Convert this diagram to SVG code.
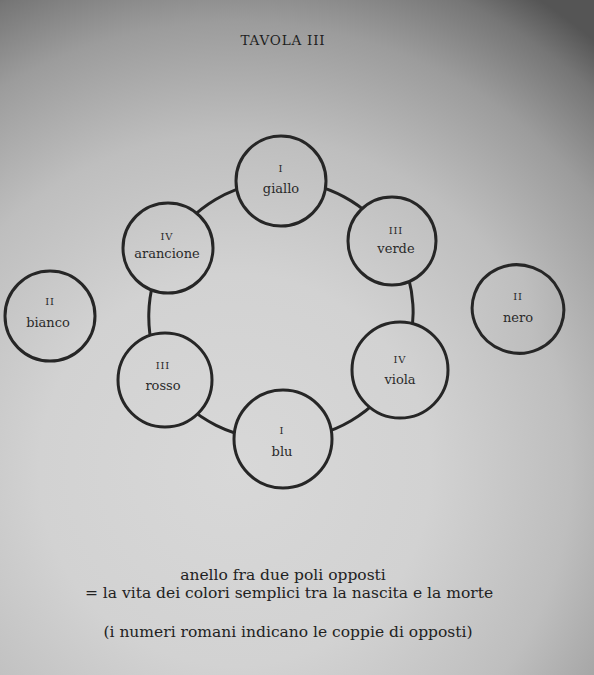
<svg xmlns="http://www.w3.org/2000/svg" width="594" height="675" viewBox="0 0 594 675">
<defs>
<radialGradient id="bg" gradientUnits="userSpaceOnUse" cx="235" cy="470" r="560" fx="235" fy="470">
<stop offset="0" stop-color="#d8d8d8"/>
<stop offset="0.35" stop-color="#d2d2d2"/>
<stop offset="0.6" stop-color="#bebebe"/>
<stop offset="0.8" stop-color="#9c9c9c"/>
<stop offset="0.93" stop-color="#767676"/>
<stop offset="1" stop-color="#555555"/>
</radialGradient>
<style>
.node circle, .node ellipse { fill: url(#bg); stroke: #262626; stroke-width: 3; }
.num { font-family: 'DejaVu Serif', 'Liberation Serif', serif; font-size: 10px; fill: #2a2a2a; text-anchor: middle; letter-spacing: 0.8px; }
.name { font-family: 'DejaVu Serif', 'Liberation Serif', serif; font-size: 13px; fill: #2a2a2a; text-anchor: middle; }
.cap { font-family: 'DejaVu Serif', 'Liberation Serif', serif; font-size: 15.5px; fill: #222; text-anchor: middle; }
#connectors path { fill: none; stroke: #262626; stroke-width: 3; }
</style>
</defs>
<rect x="0" y="0" width="594" height="675" fill="url(#bg)"/>
<text x="283" y="45" font-family="'DejaVu Serif', 'Liberation Serif', serif" font-size="13.5" fill="#1e1e1e" text-anchor="middle" letter-spacing="0.8">TAVOLA III</text>
<g id="connectors">
<path d="M281 181 A132 132 0 0 1 392 241"/>
<path d="M392 241 A132 132 0 0 1 400 370"/>
<path d="M400 370 A132 132 0 0 1 283 439"/>
<path d="M283 439 A132 132 0 0 1 165 380"/>
<path d="M165 380 A132 132 0 0 1 168 248"/>
<path d="M168 248 A132 132 0 0 1 281 181"/>
</g>
<g id="node-giallo" class="node"><circle cx="281" cy="181" r="45"/><text class="num" x="281" y="172">I</text><text class="name" x="281" y="193">giallo</text></g>
<g id="node-verde" class="node"><circle cx="392" cy="241" r="44"/><text class="num" x="396" y="234">III</text><text class="name" x="396" y="253">verde</text></g>
<g id="node-viola" class="node"><circle cx="400" cy="370" r="48"/><text class="num" x="400" y="363">IV</text><text class="name" x="400" y="384">viola</text></g>
<g id="node-blu" class="node"><circle cx="283" cy="439" r="49"/><text class="num" x="282" y="434">I</text><text class="name" x="282" y="456">blu</text></g>
<g id="node-rosso" class="node"><circle cx="165" cy="380" r="47"/><text class="num" x="163" y="369">III</text><text class="name" x="163" y="390">rosso</text></g>
<g id="node-arancione" class="node"><circle cx="168" cy="248" r="45"/><text class="num" x="167" y="240">IV</text><text class="name" x="167" y="258">arancione</text></g>
<g id="node-bianco" class="node"><circle cx="50" cy="316" r="45"/><text class="num" x="50" y="305">II</text><text class="name" x="48" y="327">bianco</text></g>
<g id="node-nero" class="node"><ellipse cx="518" cy="309" rx="46" ry="44" transform="rotate(20 518 309)"/><text class="num" x="518" y="300">II</text><text class="name" x="518" y="322">nero</text></g>
<text class="cap" x="283" y="580">anello fra due poli opposti</text>
<text class="cap" x="289" y="598">= la vita dei colori semplici tra la nascita e la morte</text>
<text class="cap" x="288" y="637">(i numeri romani indicano le coppie di opposti)</text>
</svg>
